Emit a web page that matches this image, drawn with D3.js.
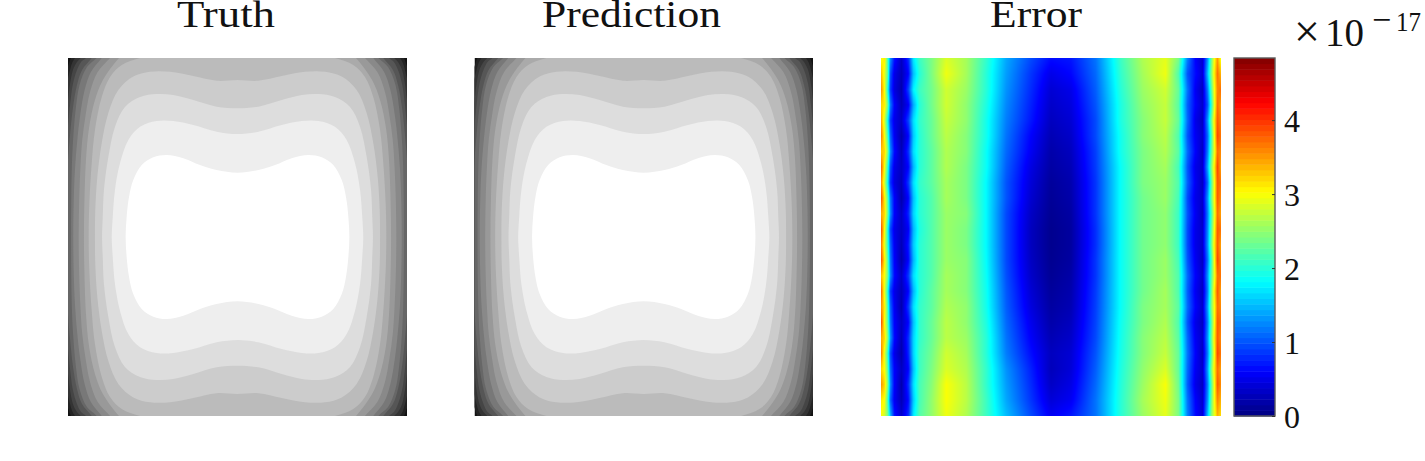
<!DOCTYPE html>
<html>
<head>
<meta charset="utf-8">
<script src="https://cdn.jsdelivr.net/npm/d3@7"></script>
<style>
  body { margin: 0; background: #fff; overflow: hidden; }
  #chart { position: absolute; left: 0; top: 0; }
  #errorMap { position: absolute; }
  text { font-family: "Liberation Serif", serif; fill: #111; }
</style>
</head>
<body>
<svg id="chart" width="1425" height="461"></svg>
<script>
// panel titles
const titles = ["Truth", "Prediction", "Error"];

// gray levels of the filled contours, outermost first
const grayLevels = [0, 1, 2, 3, 4, 5, 6, 7, 8, 9, 10, 11, 12, 13, 14];

// level curves of the top left quadrant, [x, y]: 0 = panel edge, 1 = panel middle
const curve0 = [[-.25,1],[-.06,.15],[0,.045],[.012,.011],[.018,0],[.06,-.08],[.6,-.55],[1,-.6]];
const curve1 = [[-.2,1],[-.05,.3],[0,.112],[.012,.067],[.024,.028],[.041,0],[.09,-.08],[.6,-.5],[1,-.55]];
const curve2 = [[-.15,1],[-.04,.45],[0,.235],[.012,.145],[.029,.067],[.053,.022],[.075,0],[.125,-.08],[.6,-.45],[1,-.5]];
const curve3 = [[-.1,1],[-.03,.6],[0,.374],[.012,.263],[.029,.145],[.053,.067],[.077,.022],[.106,0],[.165,-.08],[.6,-.4],[1,-.45]];
const curve4 = [[-.03,1],[-.012,.8],[0,.57],[.012,.43],[.029,.279],[.053,.151],[.083,.067],[.14,0],[.2,-.08],[.6,-.35],[1,-.4]];
const curve5 = [[.018,1],[.019,.793],[.023,.598],[.03,.458],[.045,.291],[.068,.151],[.112,.05],[.169,0],[.23,-.08],[.6,-.3],[1,-.35]];
const curve6 = [[.031,1],[.034,.793],[.041,.626],[.055,.458],[.072,.318],[.098,.179],[.135,.078],[.199,0],[.26,-.08],[.6,-.25],[1,-.3]];
const curve7 = [[.063,1],[.066,.793],[.074,.598],[.084,.458],[.104,.318],[.13,.19],[.175,.078],[.248,0],[.31,-.07],[.6,-.2],[1,-.25]];
const curve8 = [[.094,1],[.097,.793],[.106,.57],[.124,.391],[.159,.235],[.206,.123],[.301,0],[.36,-.05],[.6,-.15],[1,-.2]];
const curve9 = [[.122,1],[.126,.81],[.14,.587],[.159,.402],[.199,.218],[.248,.106],[.317,.039],[.425,0],[.6,-.045],[.8,-.08],[1,-.09]];
const curve10 = [[.159,1],[.161,.849],[.173,.665],[.199,.475],[.238,.307],[.297,.179],[.385,.104],[.484,.077],[.602,.077],[.739,.101],[.877,.127],[1,.123]];
const curve11 = [[.201,1],[.205,.888],[.212,.737],[.238,.553],[.277,.385],[.336,.274],[.425,.218],[.523,.201],[.621,.207],[.739,.235],[.877,.272],[1,.281]];
const curve12 = [[.258,1],[.264,.888],[.277,.737],[.307,.587],[.356,.458],[.425,.384],[.523,.352],[.621,.352],[.739,.374],[.877,.412],[1,.425]];
const curve13 = [[.34,1],[.346,.888],[.36,.777],[.385,.682],[.435,.598],[.503,.555],[.582,.542],[.68,.56],[.779,.598],[.877,.626],[1,.641]];
const levelCurves = [curve0, curve1, curve2, curve3, curve4, curve5, curve6, curve7, curve8, curve9, curve10, curve11, curve12, curve13];

// error grid, x and y run 0..1 across the panel
const errX = [0,.009,.018,.026,.038,.059,.079,.094,.112,.147,.191,.25,.309,.368,.441,.5,.559,.632,.706,.771,.838,.876,.903,.926,.947,.962,.974,.982,.991,1];
const errY = [0,.043,.087,.13,.174,.217,.261,.304,.348,.391,.435,.478,.522,.565,.609,.652,.696,.739,.783,.826,.87,.913,.957,1];
const errValues = [
  [3.0,3.1,2.2,1.3,.7,.32,.8,1.7,2.1,2.4,2.85,2.6,2.05,1.4,.95,.65,.7,1.15,2.1,2.65,2.9,2.4,1.2,.6,.37,1.3,2.4,3.0,3.5,3.0],
  [3.3,2.9,2.3,1.0,.5,.27,.6,1.5,2.0,2.4,2.95,2.6,2.0,1.35,.85,.5,.62,1.1,2.05,2.6,2.95,2.2,1.0,.65,.42,1.5,2.5,3.1,3.7,3.4],
  [3.5,3.0,2.0,.9,.45,.22,.9,1.75,2.1,2.35,2.8,2.55,2.0,1.3,.8,.4,.5,1.05,2.0,2.55,2.8,2.3,1.15,.55,.32,1.2,2.3,3.0,3.6,3.7],
  [3.2,3.1,2.4,1.2,.6,.27,.55,1.4,2.0,2.35,2.8,2.5,1.95,1.25,.75,.35,.45,1.0,1.95,2.5,2.75,2.25,1.05,.6,.37,1.0,2.1,2.9,3.7,3.5],
  [3.4,2.8,1.9,.9,.5,.32,.9,1.65,2.05,2.3,2.75,2.5,1.9,1.2,.7,.3,.4,.95,1.95,2.45,2.75,2.3,1.1,.5,.32,1.3,2.4,3.1,3.8,3.6],
  [3.6,3.0,2.2,1.1,.55,.22,.6,1.55,2.0,2.3,2.7,2.45,1.9,1.15,.6,.25,.35,.95,1.9,2.45,2.7,2.2,1.0,.55,.37,1.1,2.2,3.0,3.9,3.7],
  [3.3,3.2,2.5,1.3,.65,.27,.8,1.65,2.0,2.25,2.65,2.45,1.85,1.1,.55,.2,.3,.9,1.9,2.4,2.65,2.25,1.1,.6,.32,1.2,2.3,2.9,3.7,3.6],
  [3.7,3.0,2.1,1.0,.5,.32,.6,1.45,2.0,2.25,2.65,2.4,1.85,1.05,.47,.17,.26,.88,1.85,2.4,2.6,2.15,1.0,.5,.37,1.4,2.5,3.1,3.9,3.5],
  [3.5,2.8,1.9,.85,.45,.27,.85,1.65,2.05,2.25,2.6,2.4,1.8,1.0,.42,.13,.22,.85,1.85,2.4,2.55,2.2,1.05,.55,.32,1.1,2.3,3.0,3.8,3.7],
  [3.8,3.1,2.3,1.2,.6,.22,.6,1.5,2.0,2.2,2.6,2.4,1.8,1.0,.38,.11,.2,.85,1.85,2.35,2.55,2.15,.95,.5,.37,1.3,2.4,3.0,3.8,3.6],
  [3.4,3.2,2.4,1.3,.6,.32,.75,1.6,2.0,2.2,2.55,2.45,1.8,.95,.33,.09,.17,.85,1.85,2.35,2.5,2.1,1.0,.55,.32,1.2,2.2,2.9,3.7,3.5],
  [3.8,3.0,2.0,.95,.5,.32,.55,1.45,1.95,2.2,2.55,2.4,1.8,.95,.3,.07,.15,.82,1.85,2.35,2.5,2.1,.95,.5,.37,1.25,2.3,3.0,3.8,3.7],
  [3.6,2.9,2.1,1.1,.55,.27,.7,1.55,2.0,2.2,2.55,2.4,1.8,.95,.3,.07,.15,.82,1.85,2.35,2.5,2.1,.95,.5,.37,1.3,2.4,3.1,3.8,3.5],
  [3.8,3.1,2.3,1.2,.6,.22,.6,1.45,2.0,2.2,2.55,2.45,1.82,.95,.32,.08,.16,.85,1.85,2.35,2.55,2.15,1.0,.55,.32,1.15,2.2,3.0,3.9,3.6],
  [3.3,3.0,2.4,1.3,.65,.32,.85,1.65,2.0,2.2,2.6,2.45,1.85,.98,.35,.1,.19,.85,1.85,2.35,2.55,2.2,1.1,.6,.37,1.3,2.3,2.9,3.7,3.7],
  [3.7,2.9,2.0,.9,.5,.27,.6,1.45,2.0,2.25,2.6,2.45,1.88,1.02,.4,.13,.22,.88,1.85,2.35,2.6,2.2,1.05,.55,.32,1.2,2.4,3.1,3.8,3.5],
  [3.5,3.1,2.2,1.1,.55,.22,.85,1.65,2.05,2.25,2.65,2.5,1.9,1.05,.45,.16,.25,.9,1.85,2.4,2.6,2.25,1.1,.6,.37,1.35,2.5,3.0,3.7,3.6],
  [3.8,3.0,2.3,1.2,.6,.32,.6,1.5,2.05,2.3,2.7,2.5,1.95,1.1,.52,.2,.3,.92,1.88,2.4,2.65,2.2,1.0,.5,.32,1.2,2.3,3.0,3.8,3.7],
  [3.4,3.2,2.5,1.35,.65,.27,.8,1.6,2.05,2.3,2.7,2.55,2.0,1.15,.58,.25,.35,.95,1.9,2.45,2.7,2.25,1.1,.55,.37,1.3,2.4,3.1,3.8,3.6],
  [3.6,2.9,2.1,1.0,.5,.22,.75,1.6,2.1,2.35,2.8,2.6,2.0,1.2,.66,.3,.4,1.0,1.92,2.45,2.75,2.3,1.15,.6,.32,1.2,2.3,3.0,3.9,3.7],
  [3.2,3.0,2.3,1.15,.6,.32,.6,1.5,2.1,2.4,2.85,2.65,2.05,1.3,.75,.28,.42,1.05,1.95,2.5,2.85,2.3,1.1,.55,.37,1.35,2.5,3.1,3.7,3.5],
  [3.5,3.2,2.5,1.3,.6,.22,.8,1.65,2.15,2.45,3.0,2.7,2.05,1.35,.8,.33,.48,1.1,1.98,2.55,3.0,2.35,1.05,.5,.32,1.2,2.3,3.0,3.8,3.6],
  [3.1,3.0,2.2,1.1,.55,.27,.65,1.55,2.15,2.5,3.0,2.7,2.1,1.4,.85,.42,.55,1.15,2.0,2.6,2.95,2.4,1.15,.6,.37,1.3,2.4,3.0,3.6,3.4],
  [3.0,2.8,2.4,1.5,.7,.37,.8,1.7,2.2,2.5,2.95,2.65,2.1,1.5,.95,.55,.7,1.15,2.0,2.55,2.9,2.4,1.2,.65,.42,1.5,2.5,2.9,3.4,3.2]
];

// colorbar
const errMax = 4.84;
const barTicks = [0, 1, 2, 3, 4];
const jetStops = [0, .125, .375, .625, .875, 1];
const jetColors = ["#000080", "#0000ff", "#00ffff", "#ffff00", "#ff0000", "#800000"];

const svg = d3.select("#chart");
const top_y = 58, bottom_y = 416;

// sets up the color scales
const jet = d3.scaleLinear().domain(jetStops.map(d => d * errMax)).range(jetColors).clamp(true);
const gray = d3.scaleLinear().domain([0, 14]).range(["#121212", "#fff"]);

// the quadrant curve is mirrored into a closed ring
function ring(q) {
    const tr = q.slice(0, -1).reverse().map(d => [2 - d[0], d[1]]);
    const br = q.slice(1).map(d => [2 - d[0], 2 - d[1]]);
    const bl = q.slice(1, -1).reverse().map(d => [d[0], 2 - d[1]]);
    return q.concat(tr, br, bl);
}

function contourPanel(left, right, id) {
    const x = d3.scaleLinear().domain([0, 2]).range([left, right]);
    const y = d3.scaleLinear().domain([0, 2]).range([top_y, bottom_y]);
    const line = d3.line().x(d => x(d[0])).y(d => y(d[1])).curve(d3.curveCatmullRomClosed.alpha(.5));

    svg.append("clipPath").attr("id", id)
        .append("rect")
        .attr("x", left).attr("y", top_y)
        .attr("width", right - left).attr("height", bottom_y - top_y);

    const g = svg.append("g").attr("clip-path", "url(#" + id + ")");
    g.append("rect")
        .attr("x", left).attr("y", top_y)
        .attr("width", right - left).attr("height", bottom_y - top_y)
        .attr("fill", gray(grayLevels[0]));

    g.selectAll("path").data(levelCurves).join("path")
        .attr("d", d => line(ring(d)))
        .attr("fill", (d, i) => gray(grayLevels[i + 1]));
}

contourPanel(68, 407, "clipTruth");
contourPanel(474.5, 813, "clipPred");

// error map: every pixel reads the grid, drawn on a canvas
const errLeft = 881, errRight = 1221;
const errW = errRight - errLeft, errH = bottom_y - top_y;
const canvas = d3.select("body").append("canvas")
    .attr("id", "errorMap")
    .attr("width", errW).attr("height", errH)
    .style("left", errLeft + "px").style("top", top_y + "px");
const ctx = canvas.node().getContext("2d");
const pxX = d3.scaleLinear().domain([0, errW - 1]).range([0, 1]);
const pxY = d3.scaleLinear().domain([0, errH - 1]).range([0, 1]);
const bisect = d3.bisector(d => d).right;
for (let py = 0; py < errH; py++) {
    const v = pxY(py);
    const j = Math.min(bisect(errY, v), errY.length - 1);
    const tv = (v - errY[j - 1]) / (errY[j] - errY[j - 1]);
    for (let px = 0; px < errW; px++) {
        const u = pxX(px);
        const i = Math.min(bisect(errX, u), errX.length - 1);
        const tu = (u - errX[i - 1]) / (errX[i] - errX[i - 1]);
        const a = errValues[j - 1][i - 1] * (1 - tu) + errValues[j - 1][i] * tu;
        const b = errValues[j][i - 1] * (1 - tu) + errValues[j][i] * tu;
        ctx.fillStyle = jet(a * (1 - tv) + b * tv);
        ctx.fillRect(px, py, 1, 1);
    }
}

// colorbar with 64 color steps
const barLeft = 1234, barRight = 1275;
const barY = d3.scaleLinear().domain([0, errMax]).range([bottom_y, top_y]);
const steps = d3.range(64);
svg.append("g").selectAll("rect").data(steps).join("rect")
    .attr("x", barLeft)
    .attr("width", barRight - barLeft)
    .attr("y", d => barY((d + 1) / 64 * errMax))
    .attr("height", (bottom_y - top_y) / 64 + .5)
    .attr("fill", d => jet((d + .5) / 64 * errMax));

svg.append("rect")
    .attr("x", barLeft).attr("y", top_y)
    .attr("width", barRight - barLeft).attr("height", bottom_y - top_y)
    .attr("fill", "none").attr("stroke", "#5a5a5a").attr("stroke-width", 1.4);

const barAxis = svg.append("g")
    .attr("transform", "translate(" + barRight + ",0)")
    .call(d3.axisRight(barY).tickValues(barTicks).tickFormat(d3.format("d")).tickSizeInner(-3).tickSizeOuter(0).tickPadding(9));
barAxis.select(".domain").remove();
barAxis.selectAll("line").attr("stroke", "#333");
barAxis.selectAll("text")
    .attr("dy", ".37em")
    .style("font-family", '"Liberation Serif", serif')
    .style("font-size", "32px")
    .attr("fill", "#111");

// titles, stretched a little to the width of the original lettering
const titleX = [226, 631.5, 1036];
const titleW = [98, 179, 92];
svg.selectAll(".title").data(titles).join("text")
    .attr("class", "title")
    .attr("x", (d, i) => titleX[i])
    .attr("y", 27)
    .attr("text-anchor", "middle")
    .attr("textLength", (d, i) => titleW[i])
    .attr("lengthAdjust", "spacingAndGlyphs")
    .style("font-size", "37px")
    .text(d => d);

// exponent of the colorbar
svg.append("text").attr("x", 1294).attr("y", 47).style("font-size", "46px").text("×");
svg.append("text").attr("x", 1325).attr("y", 46).style("font-size", "39px").text("10");
svg.append("text").attr("x", 1372).attr("y", 31).style("font-size", "34px").text("−");
svg.append("text").attr("x", 1396).attr("y", 31).attr("textLength", 25).attr("lengthAdjust", "spacingAndGlyphs").style("font-size", "28px").text("17");
</script>
</body>
</html>
